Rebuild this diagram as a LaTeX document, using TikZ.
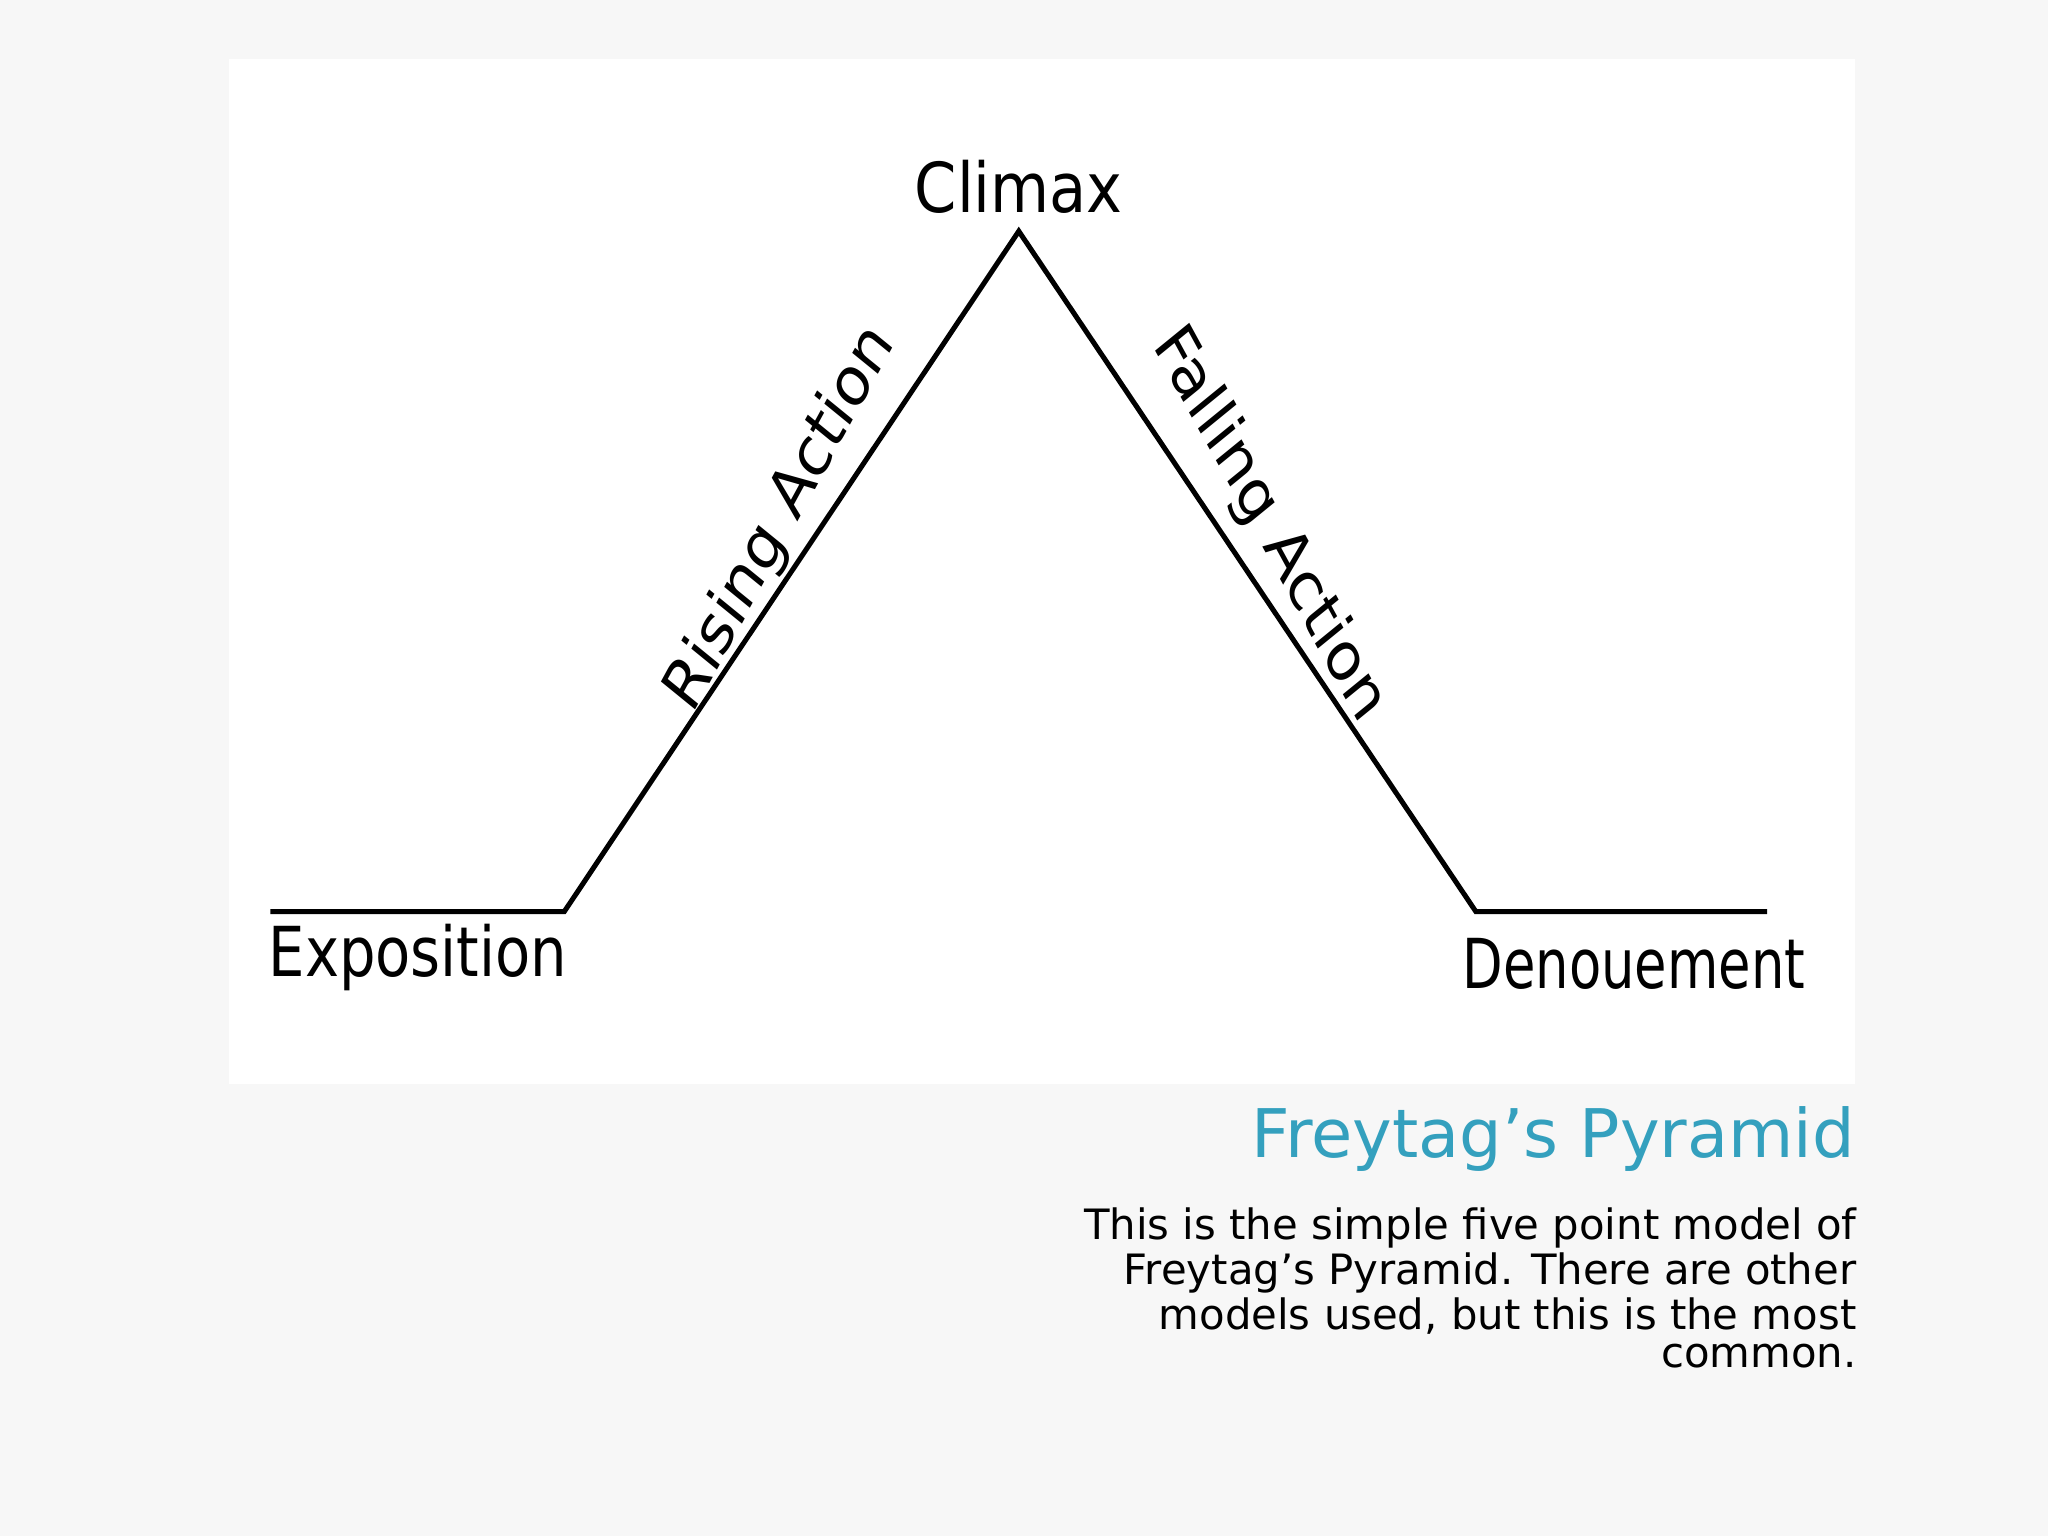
\documentclass[tikz,border=0pt]{standalone}
\usepackage{fontspec}
\setmainfont{DejaVu Sans}
\definecolor{teal1}{RGB}{52,160,190}
\begin{document}
\begin{tikzpicture}[x=0.01cm,y=-0.01cm,
  lbl/.style={inner sep=0pt,font=\fontsize{15}{18}\selectfont,xscale=0.88},
  ln/.style={line width=1.1pt,line join=miter}]
\fill[gray!6] (0,0) rectangle (1568,1176);
\useasboundingbox (0,0) rectangle (1568,1176);
\fill[white] (175,45) rectangle (1420,830);
\coordinate (e0) at (207,698);
\coordinate (e1) at (432,698);
\coordinate (top) at (780,177);
\coordinate (d0) at (1130,698);
\coordinate (d1) at (1353,698);
\draw[ln] (e0) -- (e1) -- (top) -- (d0) -- (d1);
\node[lbl] (climax) at (780,143) {Climax};
\node[lbl,xscale=0.93,rotate=56.3] (rise) at (598,397) {Rising Action};
\node[lbl,xscale=0.93,rotate=-56.3] (fall) at (972,402) {Falling Action};
\node[lbl,xscale=0.95] (expo) at (320,733) {Exposition};
\node[lbl,xscale=0.87] (deno) at (1251,738) {Denouement};
\node[inner sep=0pt,anchor=east,text=teal1,font=\fontsize{14.6}{18}\selectfont] (title) at (1421,872) {Freytag’s Pyramid};
\node[inner sep=0pt,anchor=north east,align=right,font=\fontsize{9.1}{8.2}\selectfont] (body) at (1422,924)
 {This is the simple five point model of\\Freytag’s Pyramid. There are other\\models used, but this is the most\\common.};
\end{tikzpicture}
\end{document}
